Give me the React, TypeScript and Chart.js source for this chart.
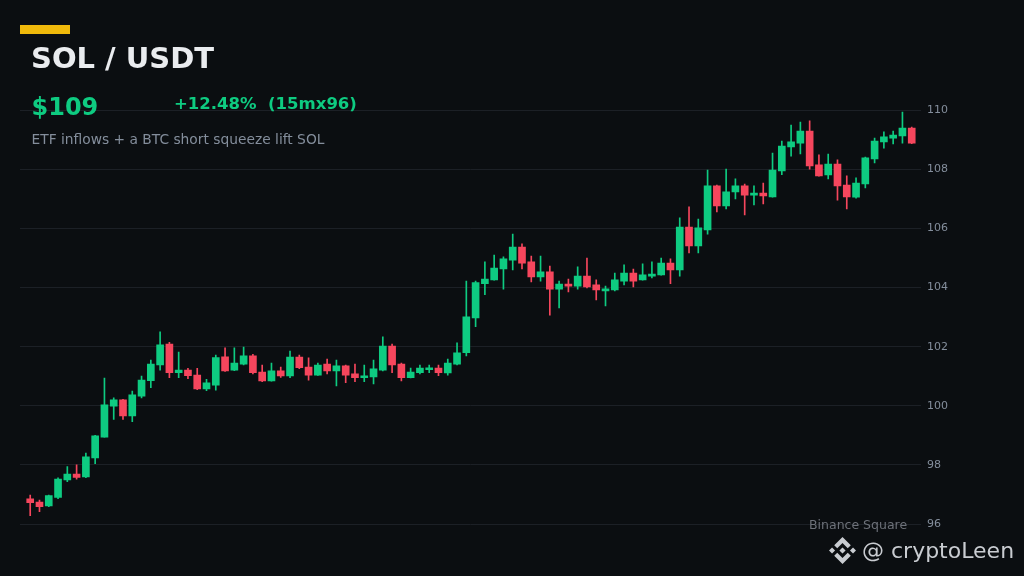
import React, { useEffect, useRef } from "react";
import { Chart, registerables } from "chart.js";

Chart.register(...registerables);

const OPEN = [
  96.85, 96.74, 96.61, 96.9, 97.49, 97.69, 97.59, 98.24, 98.94, 99.99,
  100.2, 99.66, 100.33, 100.85, 101.38, 102.09, 101.12, 101.21, 101.04, 100.57,
  100.7, 101.66, 101.21, 101.41, 101.69, 101.14, 100.84, 101.18, 101.01, 101.65,
  101.31, 101.04, 101.41, 101.18, 101.35, 101.08, 100.95, 100.98, 101.21, 102.02,
  101.41, 100.95, 101.12, 101.22, 101.28, 101.11, 101.41, 101.8, 102.97, 104.13,
  104.26, 104.63, 104.93, 105.37, 104.87, 104.36, 104.53, 103.95, 104.12, 104.05,
  104.39, 104.09, 103.89, 103.92, 104.22, 104.49, 104.26, 104.39, 104.43, 104.83,
  104.6, 106.05, 105.41, 105.95, 107.44, 106.76, 107.24, 107.44, 107.13, 107.2,
  107.07, 107.95, 108.76, 108.89, 109.3, 108.15, 107.81, 108.18, 107.47, 107.06,
  107.51, 108.35, 108.93, 109.06, 109.13, 109.4,
];
const HIGH = [
  96.98, 96.81, 96.98, 97.56, 97.94, 98.0, 98.4, 99.0, 100.94, 100.27,
  100.22, 100.5, 101.01, 101.55, 102.5, 102.15, 101.82, 101.27, 101.27, 100.9,
  101.72, 101.96, 101.96, 101.99, 101.74, 101.38, 101.45, 101.31, 101.85, 101.72,
  101.62, 101.45, 101.58, 101.55, 101.38, 101.41, 101.38, 101.55, 102.33, 102.09,
  101.45, 101.28, 101.38, 101.38, 101.38, 101.58, 102.13, 104.22, 104.22, 104.87,
  105.1, 105.04, 105.81, 105.48, 105.07, 105.07, 104.73, 104.22, 104.29, 104.7,
  105.0, 104.26, 104.05, 104.49, 104.77, 104.63, 104.8, 104.87, 105.0, 104.97,
  106.36, 106.73, 106.32, 107.98, 107.47, 108.01, 107.68, 107.5, 107.44, 107.54,
  108.55, 108.96, 109.5, 109.6, 109.64, 108.49, 108.52, 108.32, 107.78, 107.71,
  108.42, 109.06, 109.27, 109.3, 109.94, 109.43,
];
const LOW = [
  96.28, 96.42, 96.59, 96.86, 97.43, 97.52, 97.57, 98.04, 98.94, 99.54,
  99.54, 99.46, 100.27, 100.61, 101.21, 100.95, 100.95, 100.92, 100.55, 100.51,
  100.53, 101.16, 101.19, 101.38, 101.08, 100.82, 100.83, 100.96, 100.95, 101.26,
  100.87, 101.03, 101.08, 100.67, 100.78, 100.82, 100.82, 100.74, 101.18, 101.12,
  100.84, 100.94, 101.08, 101.12, 101.02, 101.04, 101.38, 101.69, 102.68, 103.76,
  104.25, 103.95, 104.6, 104.63, 104.19, 104.22, 103.07, 103.31, 103.85, 103.95,
  103.99, 103.58, 103.38, 103.89, 104.09, 104.02, 104.25, 104.33, 104.42, 104.13,
  104.39, 105.17, 105.17, 105.81, 106.56, 106.66, 107.0, 106.46, 106.8, 106.83,
  107.06, 107.82, 108.45, 108.52, 108.01, 107.77, 107.68, 106.96, 106.66, 107.03,
  107.37, 108.22, 108.72, 108.86, 108.89, 108.87,
];
const CLOSE = [
  96.72, 96.59, 96.96, 97.52, 97.69, 97.58, 98.27, 98.98, 100.03, 100.2,
  99.66, 100.37, 100.87, 101.41, 102.06, 101.12, 101.21, 101.02, 100.57, 100.78,
  101.63, 101.18, 101.45, 101.69, 101.12, 100.84, 101.18, 101.01, 101.65, 101.29,
  101.04, 101.38, 101.18, 101.35, 101.04, 100.95, 101.01, 101.25, 102.02, 101.38,
  100.95, 101.14, 101.28, 101.28, 101.12, 101.45, 101.79, 103.01, 104.17, 104.29,
  104.66, 104.97, 105.37, 104.83, 104.36, 104.53, 103.95, 104.12, 104.05, 104.39,
  104.02, 103.92, 103.95, 104.26, 104.49, 104.22, 104.43, 104.46, 104.83, 104.6,
  106.05, 105.41, 106.02, 107.44, 106.76, 107.24, 107.44, 107.13, 107.2, 107.1,
  107.98, 108.79, 108.93, 109.3, 108.12, 107.78, 108.18, 107.44, 107.07, 107.54,
  108.39, 108.96, 109.1, 109.16, 109.4, 108.89,
];
const Y_TICKS = [96, 98, 100, 102, 104, 106, 108, 110];

const TITLE = "SOL / USDT";
const PRICE = "$109";
const CHANGE = "+12.48%  (15mx96)";
const SUBTITLE = "ETF inflows + a BTC short squeeze lift SOL";
const SOURCE = "Binance Square";
const HANDLE = "@ cryptoLeen";

const GREEN = "#0ecb81";
const RED = "#f6465d";
const BG = "#0b0e11";
const FONT = "'DejaVu Sans', sans-serif";

export default function App() {
  const canvasRef = useRef<HTMLCanvasElement | null>(null);

  useEffect(() => {
    const canvas = canvasRef.current;
    if (!canvas) return;
    const colors = OPEN.map((o, i) => (CLOSE[i] >= o ? GREEN : RED));
    const chart = new Chart(canvas, {
      type: "bar",
      data: {
        datasets: [
          {
            label: "body",
            data: OPEN.map((o, i) => ({ x: i, y: [o, CLOSE[i]] })) as any,
            backgroundColor: colors,
            borderWidth: 0,
            barThickness: 7,
            minBarLength: 2,
            grouped: false,
            order: 0,
          } as any,
          {
            label: "wick",
            data: LOW.map((l, i) => ({ x: i, y: [l, HIGH[i]] })) as any,
            backgroundColor: colors,
            borderWidth: 0,
            barThickness: 1,
            grouped: false,
            order: 1,
          } as any,
        ],
      },
      options: {
        animation: false,
        responsive: false,
        maintainAspectRatio: false,
        events: [],
        layout: { padding: { left: 20, right: 76, top: 95.5, bottom: 37.2 } },
        plugins: { legend: { display: false }, tooltip: { enabled: false } },
        scales: {
          x: {
            type: "linear",
            min: -1.1,
            max: 96,
            offset: false,
            display: false,
            grid: { display: false },
          },
          y: {
            position: "right",
            min: 95.5,
            max: 110.5,
            afterBuildTicks: (scale: any) => {
              scale.ticks = Y_TICKS.map((v) => ({ value: v }));
            },
            afterFit: (scale: any) => {
              scale.width = 27;
            },
            border: { display: false },
            grid: { color: "#1c2026", lineWidth: 1, drawTicks: false },
            ticks: {
              color: "#848e9c",
              padding: 6,
              font: { family: FONT, size: 11 },
              callback: (v: any) => String(v),
            },
          },
        },
      } as any,
    });
    return () => chart.destroy();
  }, []);

  const abs = (style: React.CSSProperties): React.CSSProperties => ({
    position: "absolute",
    lineHeight: 1,
    whiteSpace: "pre",
    fontFamily: FONT,
    margin: 0,
    ...style,
  });

  return (
    <div
      style={{
        position: "fixed",
        left: 0,
        top: 0,
        width: 1024,
        height: 576,
        background: BG,
        overflow: "hidden",
      }}
    >
      <canvas
        ref={canvasRef}
        width={1024}
        height={576}
        style={{ position: "absolute", left: 0, top: 0, width: 1024, height: 576 }}
      />
      <div style={{ position: "absolute", left: 20, top: 25, width: 50, height: 9, background: "#f0b90b" }} />
      <div style={abs({ left: 31, top: 43.8, fontSize: 29, fontWeight: 700, color: "#eaecef" })}>{TITLE}</div>
      <div style={abs({ left: 31.5, top: 95.4, fontSize: 24, fontWeight: 700, color: GREEN })}>{PRICE}</div>
      <div style={abs({ left: 174, top: 95.6, fontSize: 16.5, fontWeight: 700, color: GREEN })}>{CHANGE}</div>
      <div style={abs({ left: 31.5, top: 133.3, fontSize: 13.8, color: "#848e9c" })}>{SUBTITLE}</div>
      <div style={abs({ left: 809, top: 519.4, fontSize: 12.5, color: "#6d7179" })}>{SOURCE}</div>
      <svg
        style={{ position: "absolute", left: 829, top: 537, width: 27, height: 27 }}
        viewBox="0 0 126.61 126.61"
      >
        <g fill="#c9ccd1">
          <path d="M38.73 53.2l24.59-24.58 24.6 24.6 14.3-14.31L63.32 0 24.42 38.9l14.31 14.3zM0 63.31l14.3-14.31 14.31 14.31-14.31 14.3zm38.73 10.11l24.59 24.59 24.6-24.6 14.31 14.29-38.9 38.91-38.91-38.88-.02-.02zm59.58-10.1l14.3-14.31 14.31 14.3-14.31 14.31z" />
          <path d="M77.83 63.3L63.32 48.78 52.59 59.51l-1.24 1.23-2.54 2.54-.02.02.02.03 14.51 14.5 14.51-14.52.01-.01z" />
        </g>
      </svg>
      <div style={abs({ left: 862, top: 540.4, fontSize: 22, color: "#c9ccd1" })}>{HANDLE}</div>
    </div>
  );
}
